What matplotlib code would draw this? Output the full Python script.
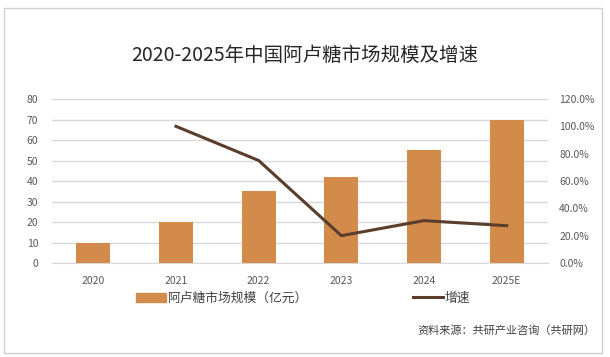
import matplotlib
matplotlib.use("Agg")
import matplotlib.pyplot as plt
from matplotlib.ticker import FuncFormatter, MultipleLocator
from matplotlib.patches import Rectangle
from matplotlib.lines import Line2D

plt.rcParams['font.family'] = ['Noto Sans CJK SC', 'DejaVu Sans']

years = ["2020", "2021", "2022", "2023", "2024", "2025E"]
market_size = [10, 20, 35, 42, 55, 70]
growth_years = ["2021", "2022", "2023", "2024", "2025E"]
growth = [100.0, 75.0, 20.0, 31.0, 27.3]

bar_color = "#D38B4C"
line_color = "#5A3E2B"
tick_color = "#595959"

fig = plt.figure(figsize=(6.10, 3.57), dpi=100)
W, H = 610, 357
ax = fig.add_axes([52 / W, 1 - 263 / H, 496 / W, (263 - 99) / H])
ax2 = ax.twinx()

x = list(range(len(years)))
ax.bar(x, market_size, width=0.41, color=bar_color, zorder=3)
gx = [years.index(y) for y in growth_years]
ax2.plot(gx, growth, color=line_color, lw=2.2, zorder=4)

ax.set_xlim(-0.5, len(years) - 0.5)
ax.set_ylim(0, 80)
ax2.set_ylim(0, 120)
ax.yaxis.set_major_locator(MultipleLocator(10))
ax2.yaxis.set_major_locator(MultipleLocator(20))
ax2.yaxis.set_major_formatter(FuncFormatter(lambda v, p: f"{v:.1f}%"))
ax.set_xticks(x)
ax.set_xticklabels(years)

ax.grid(axis='y', color="#D9D9D9", lw=1, zorder=0)
for a in (ax, ax2):
    for s in a.spines.values():
        s.set_visible(False)
    a.tick_params(length=0, labelsize=7.5, labelcolor=tick_color)
ax.spines['bottom'].set_visible(True)
ax.spines['bottom'].set_color("#D9D9D9")
ax.tick_params(axis='y', pad=10)
ax.tick_params(axis='x', pad=9)
ax2.tick_params(axis='y', pad=8)

fig.text(0.5, 1 - 55 / H, "2020-2025年中国阿卢糖市场规模及增速", ha='center', va='center',
         fontsize=14, color="#262626")

# legend
handles = [Rectangle((0, 0), 1, 1, color=bar_color), Line2D([0], [0], color=line_color, lw=2.2)]
labels = ["阿卢糖市场规模（亿元）", "增速"]
fig.legend(handles, labels, loc='center', bbox_to_anchor=(303 / W, 1 - 298 / H), ncol=2,
           frameon=False, fontsize=9.2, handlelength=2.4, handletextpad=0.1,
           columnspacing=8.2, labelcolor="#404040")

# source
fig.text(595 / W, 1 - 331 / H, "资料来源：共研产业咨询（共研网）", ha='right', va='center',
         fontsize=8, color="#404040")

# border
fig.add_artist(Rectangle((4 / W, 4 / H), (602 - 4) / W, (353 - 8) / H, transform=fig.transFigure,
                         fill=False, edgecolor="#D0D0D0", lw=1))

fig.savefig("out.png", dpi=100)
